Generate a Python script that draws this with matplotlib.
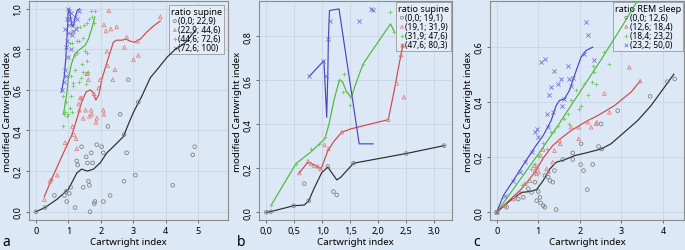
import matplotlib
matplotlib.use("Agg")
import matplotlib.pyplot as plt
from matplotlib.ticker import FuncFormatter

plt.rcParams["font.family"] = ["Liberation Sans Narrow", "Noto Sans", "DejaVu Sans"]

BG = "#dce8f5"
COLORS = {"k": ("#7a7a7a", "#2b2b2b"), "r": ("#e07a7a", "#d04848"),
          "g": ("#6cc85c", "#4cb83c"), "b": ("#6a6ad0", "#4848c0")}
MARKERS = {"k": "o", "r": "^", "g": "+", "b": "x"}

# ---------------- panel a: ratio supine ----------------
a_labels = ["(0,0; 22,9)", "(22,9; 44,6)", "(44,6; 72,6)", "(72,6; 100)"]
a_k_x = [0, 0.28, 0.57, 0.88, 0.93, 0.95, 1.03, 1.07, 1.21, 1.26, 1.29, 1.41, 1.46, 1.55, 1.59, 1.62, 1.65,
         1.67, 1.71, 1.75, 1.80, 1.82, 1.88, 2.03, 2.08, 2.08, 2.22, 2.29, 2.60, 2.72, 2.72, 2.80, 2.85,
         3.07, 3.16, 4.22, 4.84, 4.90]
a_k_y = [0, 0.02, 0.08, 0.08, 0.10, 0.05, 0.09, 0.12, 0.02, 0.25, 0.23, 0.32, 0.12, 0.27, 0.24, 0.15, 0.13,
         0.0, 0.29, 0.24, 0.04, 0.05, 0.33, 0.32, 0.29, 0.05, 0.42, 0.08, 0.48, 0.38, 0.15, 0.29, 0.65,
         0.18, 0.54, 0.13, 0.28, 0.32]
a_k_lx = [0, 0.28, 0.64, 1.00, 1.26, 1.41, 1.59, 1.78, 1.98, 2.19, 2.45, 2.70, 2.85, 3.01, 3.27, 3.53,
          3.79, 4.04, 4.30, 4.51, 4.66, 4.90]
a_k_ly = [0, 0.02, 0.06, 0.11, 0.19, 0.21, 0.20, 0.21, 0.24, 0.29, 0.33, 0.37, 0.43, 0.49, 0.57, 0.66,
          0.71, 0.76, 0.80, 0.82, 0.84, 0.89]

a_r_x = [0.26, 0.43, 0.48, 0.66, 0.90, 1.13, 1.18, 1.24, 1.26, 1.32, 1.34, 1.37, 1.42, 1.46, 1.53, 1.57,
         1.59, 1.62, 1.65, 1.70, 1.72, 1.80, 1.85, 1.88, 1.94, 1.98, 2.08, 2.10, 2.10, 2.16, 2.19, 2.21,
         2.31, 2.25, 2.37, 2.44, 2.49, 2.73, 2.80, 3.01, 3.16, 3.14, 3.84]
a_r_y = [0.06, 0.15, 0.16, 0.18, 0.34, 0.42, 0.38, 0.36, 0.31, 0.53, 0.50, 0.56, 0.56, 0.46, 0.50, 0.68,
         0.68, 0.65, 0.47, 0.50, 0.48, 0.58, 0.44, 0.46, 0.61, 0.65, 0.50, 0.48, 0.92, 0.89, 0.79, 0.72,
         0.90, 0.99, 0.65, 0.70, 0.91, 0.81, 0.86, 0.75, 0.77, 0.84, 0.96]
a_r_lx = [0.26, 0.54, 0.85, 1.10, 1.28, 1.41, 1.55, 1.67, 1.75, 1.85, 1.94, 2.04, 2.16, 2.29, 2.39,
          2.49, 2.65, 2.78, 2.91, 3.04, 3.22, 3.42, 3.63, 3.84]
a_r_ly = [0.075, 0.18, 0.29, 0.375, 0.465, 0.54, 0.59, 0.60, 0.59, 0.55, 0.575, 0.655, 0.72, 0.785,
          0.835, 0.845, 0.845, 0.85, 0.84, 0.835, 0.85, 0.885, 0.915, 0.94]

a_g_x = [0.85, 0.88, 0.85, 0.91, 0.93, 1.00, 1.05, 1.07, 1.08, 1.05, 1.07, 1.10, 1.13, 1.15, 1.21, 1.26,
         1.28, 1.34, 1.26, 1.36, 1.44, 1.48, 1.52, 1.57, 1.55, 1.59, 1.63, 1.69, 1.59, 1.62, 1.41, 1.44,
         1.34, 1.38, 1.82, 1.72, 1.79, 1.21, 1.10, 0.97]
a_g_y = [0.57, 0.48, 0.42, 0.49, 0.54, 0.48, 0.51, 0.57, 0.67, 0.83, 0.88, 0.83, 0.62, 0.635, 0.77, 0.78,
         0.84, 0.84, 0.91, 0.91, 0.855, 0.92, 0.79, 0.78, 0.63, 0.93, 0.95, 0.99, 0.74, 0.69, 0.73, 0.69,
         0.64, 0.66, 0.99, 0.96, 0.93, 0.70, 0.49, 0.47]
a_g_lx = [0.85, 0.95, 1.00, 1.10, 1.21, 1.36, 1.52, 1.62, 1.72, 1.82]
a_g_ly = [0.48, 0.58, 0.655, 0.73, 0.78, 0.80, 0.82, 0.85, 0.90, 0.96]

a_b_x = [0.90, 0.93, 0.92, 0.95, 0.98, 1.00, 1.03, 1.05, 1.00, 1.03, 1.07, 1.10, 1.13, 1.15, 1.21, 1.24,
         1.28, 1.34, 1.07, 0.95, 0.91, 0.86, 0.80]
a_b_y = [0.70, 0.67, 0.81, 0.84, 0.76, 0.88, 0.92, 0.95, 1.00, 0.99, 0.98, 0.87, 0.89, 0.93, 0.96, 0.90,
         0.95, 0.99, 0.80, 0.95, 0.90, 0.64, 0.60]
a_b_lx = [0.79, 0.87, 0.92, 0.96, 0.99, 1.02, 1.06, 1.10, 1.15, 1.20, 1.27, 1.35]
a_b_ly = [0.59, 0.66, 0.75, 0.86, 0.97, 1.00, 0.97, 0.92, 0.91, 0.95, 0.99, 1.00]

# ---------------- panel b: ratio supine ----------------
b_labels = ["(0,0; 19,1)", "(19,1; 31,9)", "(31,9; 47,6)", "(47,6; 80,3)"]
b_k_x = [0, 0.08, 0.49, 0.68, 0.76, 1.10, 1.20, 1.26, 1.56, 2.50, 3.18]
b_k_y = [0, 0.003, 0.03, 0.13, 0.053, 0.208, 0.094, 0.079, 0.223, 0.267, 0.303]
b_k_lx = [0, 0.08, 0.49, 0.68, 0.76, 0.85, 0.99, 1.10, 1.17, 1.26, 1.33, 1.56, 2.50, 3.18]
b_k_ly = [0, 0.003, 0.03, 0.033, 0.053, 0.106, 0.18, 0.205, 0.18, 0.147, 0.159, 0.223, 0.267, 0.303]

b_r_x = [0.59, 0.75, 0.80, 0.86, 0.92, 0.97, 1.04, 1.11, 1.35, 2.18, 2.33, 2.41, 2.46, 2.44]
b_r_y = [0.179, 0.232, 0.22, 0.212, 0.209, 0.197, 0.306, 0.288, 0.364, 0.421, 0.586, 0.715, 0.523, 0.758]
b_r_lx = [0.59, 0.74, 0.85, 0.98, 1.10, 1.22, 1.35, 1.51, 2.18, 2.28, 2.37, 2.44]
b_r_ly = [0.179, 0.227, 0.217, 0.197, 0.280, 0.326, 0.364, 0.379, 0.421, 0.545, 0.667, 0.758]

b_g_x = [0.09, 0.53, 0.80, 0.95, 1.05, 1.30, 1.38, 1.39, 1.50, 1.52, 1.73, 2.22, 2.28]
b_g_y = [0.033, 0.221, 0.288, 0.311, 0.341, 0.603, 0.545, 0.629, 0.488, 0.523, 0.674, 0.912, 0.818]
b_g_lx = [0.09, 0.53, 0.80, 0.95, 1.05, 1.12, 1.22, 1.31, 1.37, 1.43, 1.52, 1.58, 1.73, 2.22, 2.29]
b_g_ly = [0.033, 0.221, 0.275, 0.311, 0.335, 0.40, 0.52, 0.603, 0.59, 0.55, 0.52, 0.57, 0.674, 0.856, 0.82]

b_b_x = [0.77, 1.02, 1.07, 1.11, 1.13, 1.66, 1.88, 1.90]
b_b_y = [0.618, 0.689, 0.621, 0.788, 0.871, 0.871, 0.924, 0.92]
b_b_lx = [0.77, 1.03, 1.08, 1.10, 1.11, 1.13, 1.30, 1.66, 1.91]
b_b_ly = [0.618, 0.689, 0.432, 0.629, 0.788, 0.917, 0.924, 0.311, 0.311]

# ---------------- panel c: ratio REM sleep ----------------
c_labels = ["(0,0; 12,6)", "(12,6; 18,4)", "(18,4; 23,2)", "(23,2; 50,0)"]
c_k_x = [0, 0.24, 0.52, 0.64, 0.76, 0.84, 0.92, 0.96, 1.00, 1.04, 1.06, 1.12, 1.16, 1.16, 1.24, 1.28,
         1.35, 1.43, 1.39, 1.59, 1.83, 1.83, 2.02, 2.03, 2.09, 2.18, 2.31, 2.45, 2.53, 2.51, 2.91, 3.69,
         4.10, 4.28]
c_k_y = [0, 0.018, 0.048, 0.054, 0.085, 0.072, 0.109, 0.042, 0.075, 0.054, 0.034, 0.024, 0.018, 0.133,
         0.127, 0.115, 0.109, 0.01, 0.151, 0.191, 0.215, 0.191, 0.173, 0.248, 0.151, 0.082, 0.173, 0.238,
         0.229, 0.32, 0.368, 0.42, 0.473, 0.483]
c_k_lx = [0, 0.32, 0.60, 0.80, 0.96, 1.12, 1.28, 1.43, 1.63, 1.87, 2.15, 2.51, 2.75, 3.07, 3.39, 3.71,
          4.02, 4.26]
c_k_ly = [0, 0.042, 0.072, 0.075, 0.082, 0.115, 0.157, 0.181, 0.19, 0.205, 0.215, 0.229, 0.248, 0.29,
          0.332, 0.386, 0.45, 0.50]

c_r_x = [0, 0.2, 0.4, 0.56, 0.68, 0.8, 0.9, 0.92, 0.96, 0.98, 1.01, 1.06, 1.12, 1.20, 1.25, 1.35, 1.39,
         1.51, 1.53, 1.79, 1.97, 1.97, 2.19, 2.27, 2.39, 2.41, 2.71, 2.59, 3.19, 3.45]
c_r_y = [0, 0.024, 0.048, 0.072, 0.103, 0.115, 0.169, 0.151, 0.139, 0.163, 0.145, 0.205, 0.227, 0.157,
         0.147, 0.181, 0.223, 0.26, 0.248, 0.308, 0.266, 0.308, 0.326, 0.308, 0.32, 0.326, 0.362, 0.43,
         0.525, 0.475]
c_r_lx = [0, 0.60, 0.92, 1.12, 1.35, 1.55, 1.79, 2.19, 2.43, 2.83, 3.23, 3.45]
c_r_ly = [0, 0.085, 0.145, 0.196, 0.242, 0.268, 0.296, 0.332, 0.350, 0.386, 0.435, 0.475]

c_g_x = [0, 0.44, 0.60, 0.72, 0.82, 0.92, 1.00, 1.12, 1.20, 1.31, 1.39, 1.47, 1.63, 1.71, 1.75, 1.79,
         1.91, 1.97, 2.03, 2.11, 2.19, 2.29, 2.31, 2.35, 2.39, 2.57, 2.71]
c_g_y = [0, 0.054, 0.097, 0.111, 0.157, 0.175, 0.205, 0.251, 0.229, 0.29, 0.296, 0.314, 0.338, 0.356,
         0.32, 0.405, 0.441, 0.374, 0.386, 0.465, 0.423, 0.471, 0.531, 0.507, 0.465, 0.580, 0.537]
c_g_lx = [0, 0.50, 1.00, 1.50, 2.00, 2.50, 3.00, 3.40]
c_g_ly = [0, 0.105, 0.21, 0.32, 0.435, 0.55, 0.67, 0.77]

c_b_x = [0, 0.2, 0.4, 0.56, 0.68, 0.85, 0.92, 0.96, 1.00, 1.06, 1.17, 1.20, 1.24, 1.25, 1.30, 1.39,
         1.47, 1.55, 1.57, 1.63, 1.71, 1.78, 1.75, 1.83, 2.11, 2.15, 2.19, 2.33, 1.35]
c_b_y = [0, 0.06, 0.115, 0.145, 0.181, 0.217, 0.292, 0.30, 0.272, 0.543, 0.556, 0.356, 0.308, 0.423,
         0.453, 0.513, 0.465, 0.483, 0.386, 0.411, 0.531, 0.456, 0.483, 0.486, 0.574, 0.688, 0.643, 0.55,
         0.362]
c_b_lx = [0, 0.16, 0.40, 0.68, 0.92, 1.12, 1.31, 1.43, 1.51, 1.63, 1.75, 1.87, 2.03, 2.15, 2.31]
c_b_ly = [0, 0.06, 0.115, 0.181, 0.236, 0.278, 0.332, 0.386, 0.405, 0.411, 0.441, 0.495, 0.562, 0.586,
          0.598]

comma = FuncFormatter(lambda v, pos: f"{v:.1f}".replace(".", ","))
intfmt = FuncFormatter(lambda v, pos: f"{v:.0f}")


def draw_panel(ax, series, labels, title, xlim, ylim, xticks, yticks, xfmt, pad):
    ax.set_facecolor(BG)
    ax.grid(True, color="#c9d5e2", linewidth=0.6)
    ax.set_axisbelow(True)
    for key, (px, py, lx, ly), lab in zip("krgb", series, labels):
        mcol, lcol = COLORS[key]
        ax.plot(lx, ly, color=lcol, linewidth=0.85, zorder=3)
        if key in "kr":
            ax.scatter(px, py, s=7, marker=MARKERS[key], facecolors="none", edgecolors=mcol,
                       linewidths=0.55, zorder=4, label=lab)
        else:
            ax.scatter(px, py, s=9, marker=MARKERS[key], color=mcol, linewidths=0.55, zorder=4, label=lab)
    ax.set_xlim(*xlim)
    ax.set_ylim(*ylim)
    ax.set_xticks(xticks)
    ax.set_yticks(yticks)
    ax.xaxis.set_major_formatter(xfmt)
    ax.yaxis.set_major_formatter(comma)
    ax.tick_params(labelsize=6.5, length=2.5, width=0.6, color="#555555", pad=2)
    for t in ax.get_yticklabels():
        t.set_rotation(90)
        t.set_va("center")
    for sp in ax.spines.values():
        sp.set_color("#8c8c8c")
        sp.set_linewidth(0.8)
    ax.set_xlabel("Cartwright index", fontsize=7, labelpad=1)
    ax.set_ylabel("modified Cartwright index", fontsize=7, labelpad=1)
    leg = ax.legend(title=title, loc="upper right", fontsize=6, title_fontsize=6.5,
                    handletextpad=0.05, handlelength=0.7, borderpad=0.25, labelspacing=0.0,
                    borderaxespad=pad, frameon=True, fancybox=False, markerscale=0.8)
    leg.get_title().set_fontweight("bold")
    leg.get_frame().set_facecolor("#e4edf7")
    leg.get_frame().set_edgecolor("#9a9a9a")
    leg.get_frame().set_linewidth(0.6)
    leg.get_frame().set_alpha(1)
    leg.set_zorder(2)


fig = plt.figure(figsize=(6.85, 2.51), dpi=100, facecolor=BG)
ax_a = fig.add_axes([0.042, 0.1195, 0.291, 0.8725])
ax_b = fig.add_axes([0.3777, 0.1195, 0.2822, 0.8725])
ax_c = fig.add_axes([0.7153, 0.1195, 0.283, 0.8725])

draw_panel(ax_a,
           [(a_k_x, a_k_y, a_k_lx, a_k_ly), (a_r_x, a_r_y, a_r_lx, a_r_ly),
            (a_g_x, a_g_y, a_g_lx, a_g_ly), (a_b_x, a_b_y, a_b_lx, a_b_ly)],
           a_labels, "ratio supine", (-0.22, 5.93), (-0.041, 1.038),
           [0, 1, 2, 3, 4, 5], [0, 0.2, 0.4, 0.6, 0.8, 1.0], intfmt, 0.5)
draw_panel(ax_b,
           [(b_k_x, b_k_y, b_k_lx, b_k_ly), (b_r_x, b_r_y, b_r_lx, b_r_ly),
            (b_g_x, b_g_y, b_g_lx, b_g_ly), (b_b_x, b_b_y, b_b_lx, b_b_ly)],
           b_labels, "ratio supine", (-0.135, 3.32), (-0.035, 0.96),
           [0, 0.5, 1.0, 1.5, 2.0, 2.5, 3.0], [0, 0.2, 0.4, 0.6, 0.8], comma, 0.1)
draw_panel(ax_c,
           [(c_k_x, c_k_y, c_k_lx, c_k_ly), (c_r_x, c_r_y, c_r_lx, c_r_ly),
            (c_g_x, c_g_y, c_g_lx, c_g_ly), (c_b_x, c_b_y, c_b_lx, c_b_ly)],
           c_labels, "ratio REM sleep", (-0.16, 4.5), (-0.028, 0.765),
           [0, 1, 2, 3, 4], [0, 0.2, 0.4, 0.6], intfmt, 0.1)

for letter, xpos in [("a", 6), ("b", 241), ("c", 477)]:
    fig.text(xpos / 685, 8 / 251, letter, fontsize=10, fontweight="bold", ha="center", va="center")

fig.savefig("out.png", dpi=100, facecolor=BG)
